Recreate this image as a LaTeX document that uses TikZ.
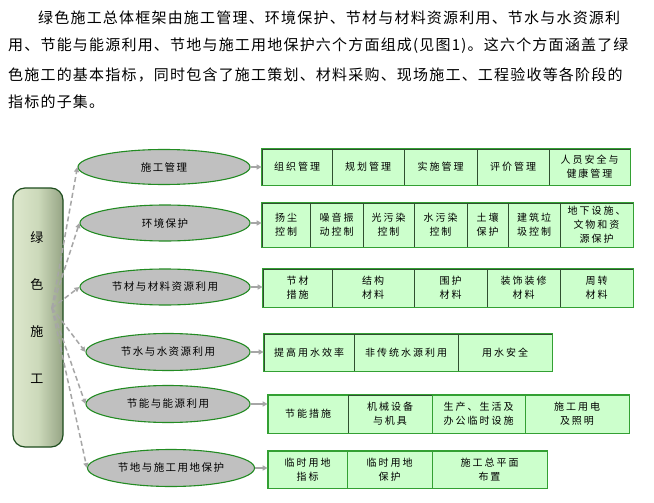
\documentclass[tikz,border=0pt]{standalone}
\usepackage{fontspec}
\newfontfamily\cjk{Noto Sans CJK SC}
\newfontfamily\cjkp[LetterSpace=8]{Noto Sans CJK SC}
\newfontfamily\cjkc[LetterSpace=20]{Noto Sans CJK SC}
\newfontfamily\cjke[LetterSpace=14]{Noto Sans CJK SC}
\usetikzlibrary{shapes.geometric,arrows.meta}
\definecolor{cellg}{HTML}{CCFFCC}
\definecolor{boxg}{HTML}{33A033}
\definecolor{divd}{HTML}{2F4F2F}
\definecolor{ellg}{HTML}{C0C0C0}
\definecolor{ellb}{HTML}{228B22}
\definecolor{conn}{HTML}{A6A6A6}
\definecolor{darkg}{HTML}{1E4D1E}
\definecolor{cylA}{HTML}{8E9C7E}
\definecolor{cylB}{HTML}{E0EAD0}
\definecolor{cylC}{HTML}{CCD9BA}
\definecolor{cylD}{HTML}{5F6F4F}
\pgfdeclarehorizontalshading{cylshade}{100bp}{color(0bp)=(cylA); color(22bp)=(cylB); color(50bp)=(cylC); color(100bp)=(cylD)}
\begin{document}
\begin{tikzpicture}[x=1pt,y=-1pt,
  cell/.style={rectangle, fill=cellg, draw=divd, line width=0.7pt, inner sep=0pt, align=center, font=\cjkc\fontsize{10}{14}\selectfont},
  oval/.style={ellipse, fill=ellg, draw=ellb, line width=1.1pt, inner sep=0pt, font=\cjke\fontsize{10.5}{12}\selectfont},
  feed/.style={draw=conn, line width=1.4pt, -{Triangle[length=5pt,width=5pt]}},
  fan/.style={draw=conn, line width=1.5pt, dash pattern=on 5pt off 3pt, -{Triangle[length=5pt,width=5pt]}},
  outline/.style={draw=boxg, line width=1pt},
  para/.style={anchor=west, inner sep=0pt, font=\cjkp\fontsize{15}{18}\selectfont}]
\useasboundingbox (0,0) rectangle (654,503);
\fill[white] (0,0) rectangle (654,503);
% paragraph
\node[para] (p1) at (38,18) {绿色施工总体框架由施工管理、环境保护、节材与材料资源利用、节水与水资源利};
\node[para] (p2) at (8,46) {用、节能与能源利用、节地与施工用地保护六个方面组成(见图1)。这六个方面涵盖了绿};
\node[para] (p3) at (8,75) {色施工的基本指标，同时包含了施工策划、材料采购、现场施工、工程验收等各阶段的};
\node[para] (p4) at (8,102) {指标的子集。};
% left column
\node[draw=darkg, line width=1.2pt, rounded corners=12pt, shade, shading=cylshade, minimum width=50, minimum height=259, inner sep=0pt] (gc) at (38,317.5) {};
\node[inner sep=0pt, align=center, font=\cjk\fontsize{13}{47}\selectfont] (gct) at (37,307.5) {绿\\色\\施\\工};
\coordinate (hub) at (52,308);
% ellipses
\node[oval, minimum width=172, minimum height=35] (e1) at (164,167) {施工管理};
\node[oval, minimum width=170, minimum height=36] (e2) at (165,223) {环境保护};
\node[oval, minimum width=170, minimum height=36] (e3) at (165,287) {节材与材料资源利用};
\node[oval, minimum width=164, minimum height=37] (e4) at (168,352) {节水与水资源利用};
\node[oval, minimum width=164, minimum height=37] (e5) at (168,404) {节能与能源利用};
\node[oval, minimum width=167, minimum height=37] (e6) at (171,468) {节地与施工用地保护};
% fan lines
\foreach \e in {e1,e2,e3,e4,e5,e6} \draw[fan] (hub) -- (\e.west);
% row 1
\node[cell, minimum width=70, minimum height=36] (r1c1) at (297,167) {组织管理};
\node[cell, minimum width=72, minimum height=36] (r1c2) at (368,167) {规划管理};
\node[cell, minimum width=73, minimum height=36] (r1c3) at (440.5,167) {实施管理};
\node[cell, minimum width=72, minimum height=36] (r1c4) at (513,167) {评价管理};
\node[cell, minimum width=81, minimum height=36] (r1c5) at (589.5,167) {人员安全与\\健康管理};
\draw[outline] (r1c1.north west) rectangle (r1c5.south east);
% row 2
\node[cell, minimum width=48, minimum height=44] (r2c1) at (286,225) {扬尘\\控制};
\node[cell, minimum width=53, minimum height=44] (r2c2) at (336.5,225) {噪音振\\动控制};
\node[cell, minimum width=51, minimum height=44] (r2c3) at (388.5,225) {光污染\\控制};
\node[cell, minimum width=53, minimum height=44] (r2c4) at (440.5,225) {水污染\\控制};
\node[cell, minimum width=41, minimum height=44] (r2c5) at (487.5,225) {土壤\\保护};
\node[cell, minimum width=52, minimum height=44] (r2c6) at (534,225) {建筑垃\\圾控制};
\node[cell, minimum width=73, minimum height=44] (r2c7) at (596.5,225) {地下设施、\\文物和资\\源保护};
\draw[outline] (r2c1.north west) rectangle (r2c7.south east);
% row 3
\node[cell, minimum width=69, minimum height=38] (r3c1) at (297.5,288) {节材\\措施};
\node[cell, minimum width=82, minimum height=38] (r3c2) at (373,288) {结构\\材料};
\node[cell, minimum width=73, minimum height=38] (r3c3) at (450.5,288) {围护\\材料};
\node[cell, minimum width=73, minimum height=38] (r3c4) at (523.5,288) {装饰装修\\材料};
\node[cell, minimum width=73, minimum height=38] (r3c5) at (596.5,288) {周转\\材料};
\draw[outline] (r3c1.north west) rectangle (r3c5.south east);
% row 4
\node[cell, minimum width=90, minimum height=37] (r4c1) at (309,352.5) {提高用水效率};
\node[cell, minimum width=104, minimum height=37] (r4c2) at (406,352.5) {非传统水源利用};
\node[cell, minimum width=94, minimum height=37] (r4c3) at (505,352.5) {用水安全};
\draw[outline] (r4c1.north west) rectangle (r4c3.south east);
% row 5
\node[cell, draw=boxg, minimum width=80, minimum height=38] (r5c1) at (308,414) {节能措施};
\node[cell, minimum width=84, minimum height=38] (r5c2) at (390,414) {机械设备\\与机具};
\node[cell, draw=boxg, minimum width=93, minimum height=38] (r5c3) at (478.5,414) {生产、生活及\\办公临时设施};
\node[cell, draw=boxg, minimum width=104, minimum height=38] (r5c4) at (577,414) {施工用电\\及照明};
\draw[outline] (r5c1.north west) rectangle (r5c4.south east);
% row 6
\node[cell, draw=boxg, minimum width=79, minimum height=37] (r6c1) at (307.5,469.5) {临时用地\\指标};
\node[cell, draw=boxg, minimum width=85, minimum height=37] (r6c2) at (389.5,469.5) {临时用地\\保护};
\node[cell, draw=boxg, minimum width=115, minimum height=37] (r6c3) at (489.5,469.5) {施工总平面\\布置};
\draw[outline] (r6c1.north west) rectangle (r6c3.south east);
% feed arrows
\draw[feed] (e1.east) -- (e1.east -| r1c1.west);
\draw[feed] (e2.east) -- (e2.east -| r2c1.west);
\draw[feed] (e3.east) -- (e3.east -| r3c1.west);
\draw[feed] (e4.east) -- (e4.east -| r4c1.west);
\draw[feed] (e5.east) -- (e5.east -| r5c1.west);
\draw[feed] (e6.east) -- (e6.east -| r6c1.west);
\end{tikzpicture}
\end{document}
